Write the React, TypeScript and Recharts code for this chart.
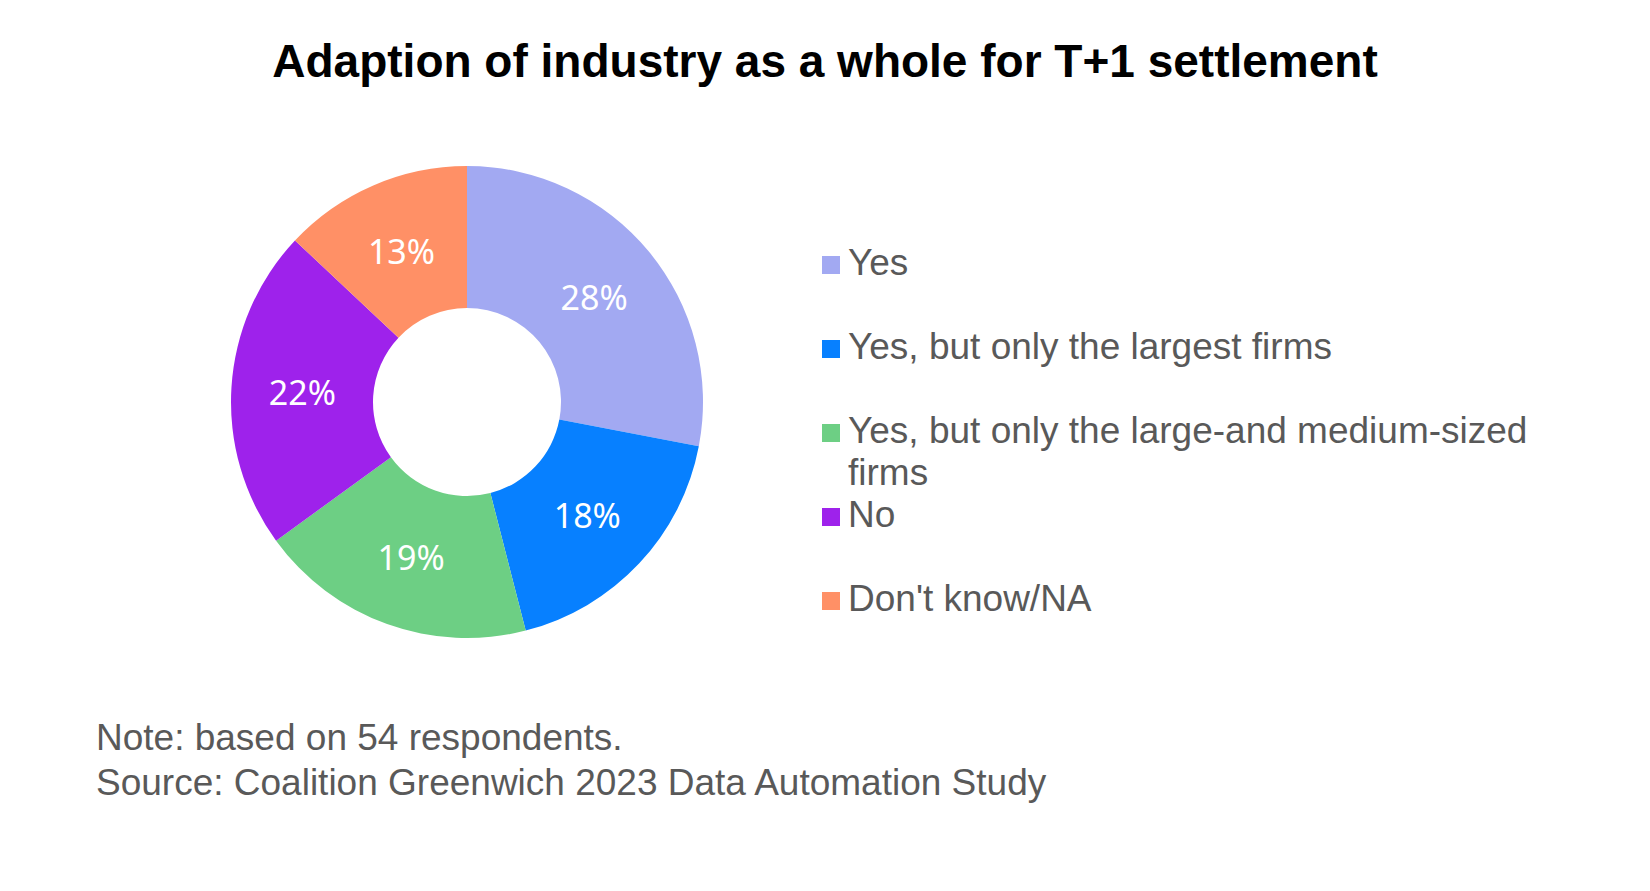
import React from "react";
import { PieChart, Pie, Cell, Legend } from "recharts";

const categories = [
  "Yes",
  "Yes, but only the largest firms",
  "Yes, but only the large-and medium-sized firms",
  "No",
  "Don't know/NA",
];
const shares = [28, 18, 19, 22, 13];
const colors = ["#A2A9F2", "#0780FF", "#6DCF84", "#9E22EB", "#FF9066"];
const title = "Adaption of industry as a whole for T+1 settlement";
const notes = [
  "Note: based on 54 respondents.",
  "Source: Coalition Greenwich 2023 Data Automation Study",
];

const data = categories.map((name, i) => ({ name, value: shares[i] }));

const W = 1650;
const H = 891;
const RAD = Math.PI / 180;
const SANS = "'Liberation Sans', Arial, sans-serif";

const renderLabel = (props: any) => {
  const { cx, cy, midAngle, innerRadius, outerRadius, value } = props;
  const r = (innerRadius + outerRadius) / 2;
  const x = cx + r * Math.cos(-midAngle * RAD);
  const y = cy + r * Math.sin(-midAngle * RAD);
  return (
    <text
      x={x}
      y={y}
      fill="#ffffff"
      textAnchor="middle"
      dominantBaseline="central"
      fontSize={34}
      fontFamily="'Noto Sans', 'Open Sans', sans-serif"
    >
      {`${value}%`}
    </text>
  );
};

const renderLegend = (props: any) => {
  const payload = [...(props.payload || [])].sort(
    (a: any, b: any) => categories.indexOf(a.value) - categories.indexOf(b.value)
  );
  return (
    <div style={{ position: "relative", width: 760, height: 420 }}>
      {payload.map((entry: any, i: number) => (
        <div
          key={i}
          style={{
            position: "absolute",
            left: 0,
            top: i * 84,
            width: 760,
          }}
        >
          <div
            style={{
              position: "absolute",
              left: 0,
              top: 13.8,
              width: 18,
              height: 18,
              background: entry.color,
            }}
          />
          <div
            style={{
              position: "absolute",
              left: 26,
              top: 0,
              width: 720,
              fontFamily: SANS,
              fontSize: 37,
              lineHeight: "42px",
              color: "#595959",
              whiteSpace: "normal",
            }}
          >
            {entry.value}
          </div>
        </div>
      ))}
    </div>
  );
};

export default function App() {
  return (
    <div
      style={{
        position: "absolute",
        left: 0,
        top: 0,
        width: W,
        height: H,
        background: "#ffffff",
        overflow: "hidden",
      }}
    >
      <div
        style={{
          position: "absolute",
          left: 0,
          top: 38,
          width: W,
          textAlign: "center",
          fontFamily: SANS,
          fontWeight: "bold",
          fontSize: 46,
          lineHeight: "46px",
          color: "#000000",
        }}
      >
        {title}
      </div>
      <div style={{ position: "absolute", left: 0, top: 0 }}>
        <PieChart
          width={W}
          height={H}
          margin={{ top: 0, right: 0, bottom: 0, left: 0 }}
        >
          <Pie
            data={data}
            dataKey="value"
            nameKey="name"
            cx={467}
            cy={402}
            innerRadius={94}
            outerRadius={236}
            startAngle={90}
            endAngle={-270}
            stroke="none"
            label={renderLabel}
            labelLine={false}
            isAnimationActive={false}
          >
            {data.map((d, i) => (
              <Cell key={d.name} fill={colors[i]} stroke="none" />
            ))}
          </Pie>
          <Legend
            layout="vertical"
            align="right"
            verticalAlign="middle"
            itemSorter={null as any}
            content={renderLegend}
            wrapperStyle={{ left: 822, top: 242.2, width: 760, height: 420 }}
          />
        </PieChart>
      </div>
      <div
        style={{
          position: "absolute",
          left: 96,
          top: 714.7,
          fontFamily: SANS,
          fontSize: 37,
          lineHeight: "45px",
          color: "#595959",
          whiteSpace: "nowrap",
        }}
      >
        {notes.map((n) => (
          <div key={n}>{n}</div>
        ))}
      </div>
    </div>
  );
}
